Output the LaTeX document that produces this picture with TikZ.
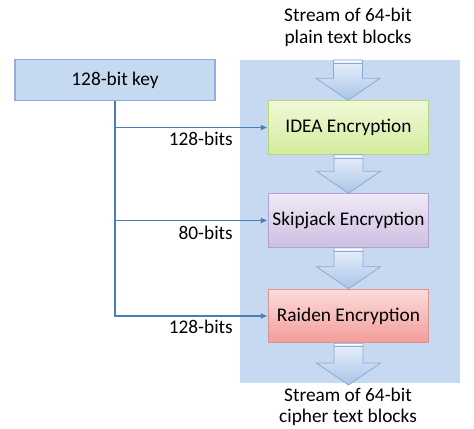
\documentclass[tikz,border=0pt]{standalone}
\usepackage{fontspec}
\setmainfont{Carlito}
\usetikzlibrary{arrows.meta}
\usetikzlibrary{calc}

\definecolor{panelblue}{RGB}{198,217,240}
\definecolor{keyfill}{RGB}{197,217,241}
\definecolor{keyedge}{RGB}{142,176,220}
\definecolor{linkblue}{RGB}{74,126,187}
\definecolor{arrowedge}{RGB}{140,170,212}

\tikzset{
  txt/.style={font=\fontsize{14.5}{16}\selectfont, text=black},
  keybox/.style={txt, draw=keyedge, fill=keyfill, line width=0.9pt, minimum width=150pt, minimum height=31pt, inner sep=0pt},
  encbox/.style={txt, line width=0.9pt, minimum width=120.5pt, minimum height=40pt, inner sep=0pt},
  keyline/.style={draw=linkblue, line width=1.2pt},
  bitlabel/.style={txt, anchor=east, inner sep=0pt},
  blockarrow/.style={draw=arrowedge, line width=0.6pt, top color={rgb,255:red,232;green,240;blue,250}, bottom color={rgb,255:red,170;green,196;blue,232}}
}

\begin{document}
\begin{tikzpicture}[x=0.75pt,y=0.75pt,yscale=-1,xscale=1]
\useasboundingbox (0,0) rectangle (474,428);

%Shape: Rectangle [panel]
\fill [panelblue] (240,60) rectangle (460,383);

% Key box
\node [keybox] (key) at (115,80) {128-bit key};

% Encryption boxes
\node [encbox, draw={rgb,255:red,184;green,214;blue,126}, top color={rgb,255:red,240;green,249;blue,214}, bottom color={rgb,255:red,212;green,236;blue,158}] (idea) at (348.5,127.5) {IDEA Encryption};
\node [encbox, draw={rgb,255:red,178;green,160;blue,206}, top color={rgb,255:red,240;green,233;blue,247}, bottom color={rgb,255:red,205;green,190;blue,225}] (skip) at (348.5,220.5) {Skipjack Encryption};
\node [encbox, draw={rgb,255:red,217;green,149;blue,148}, top color={rgb,255:red,252;green,220;blue,218}, bottom color={rgb,255:red,242;green,156;blue,154}] (raiden) at (348.5,316) {Raiden Encryption};

% Stream ends
\coordinate (in) at (348,60);
\coordinate (out) at (348,385);

% Block arrows
\foreach \s/\e in {in/idea.north, idea.south/skip.north, skip.south/raiden.north, raiden.south/out}{
  \draw [blockarrow] ($(\s)+(-14.5,0)$) -- ($(\s)+(14.5,0)$) -- ($(\s |- \e)+(14.5,-22)$) -- ($(\s |- \e)+(32,-22)$)
    -- (\s |- \e) -- ($(\s |- \e)+(-32,-22)$) -- ($(\s |- \e)+(-14.5,-22)$) -- cycle;
  \draw [arrowedge, line width=0.5pt] ($(\s)+(-14.5,3.2)$) -- ($(\s)+(14.5,3.2)$);
  \draw [white, line width=0.8pt] ($(\s)+(-14,1.6)$) -- ($(\s)+(14,1.6)$);
}

% Key lines
\draw [keyline, -{Latex[length=5pt,width=4.5pt]}] (key.south) |- (raiden.west);
\draw [keyline, -{Latex[length=5pt,width=4.5pt]}] (key.south |- idea.west) -- (idea.west);
\draw [keyline, -{Latex[length=5pt,width=4.5pt]}] (key.south |- skip.west) -- (skip.west);

% Text Node
\node [bitlabel] (bitsa) at (233,139) {128-bits};
% Text Node
\node [bitlabel] (bitsb) at (233,233) {80-bits};
% Text Node
\node [bitlabel] (bitsc) at (233,327) {128-bits};
% Text Node
\node [txt, align=center] (plain) at (348,27.5) {Stream of 64-bit\\plain text blocks};
% Text Node
\node [txt, align=center] (cipher) at (348,407) {Stream of 64-bit\\cipher text blocks};

\end{tikzpicture}
\end{document}
